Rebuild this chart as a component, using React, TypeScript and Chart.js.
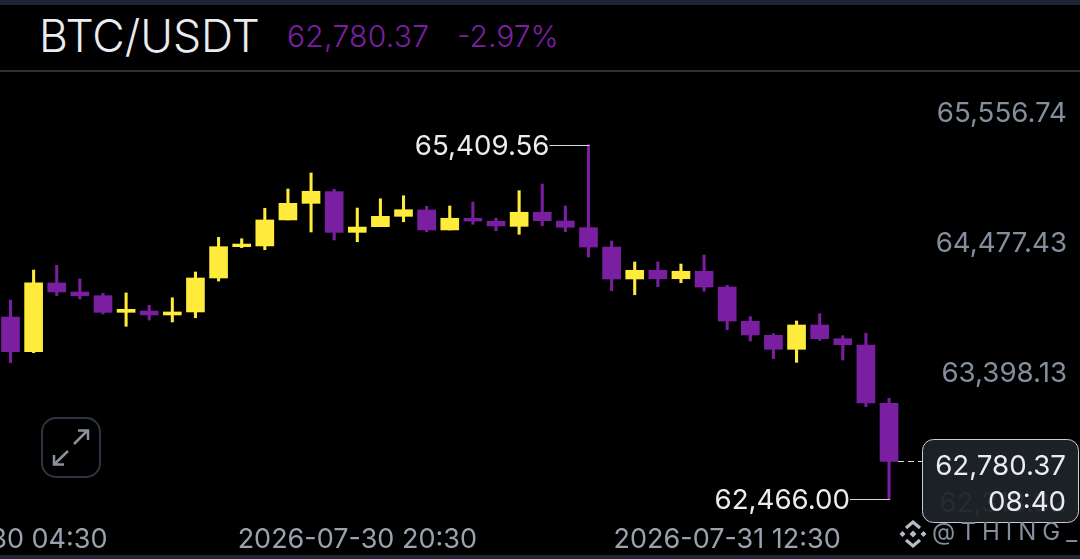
import React, { useEffect, useRef } from "react";
import { Chart, registerables } from "chart.js";

Chart.register(...registerables);

const symbol = "BTC/USDT";
const lastPrice = "62,780.37";
const changePct = "-2.97%";
const countdown = "08:40";
const watermark = "@THING_";

const opens = [63979, 63691, 64262, 64187, 64156, 64018, 64029, 63996, 64021, 64303, 64563, 64569, 64785, 64923, 65020, 64682, 64729, 64815, 64868, 64702, 64799, 64774, 64732, 64849, 64776, 64721, 64560, 64295, 64367, 64297, 64359, 64228, 63944, 63827, 63711, 63913, 63799, 63747, 63263];
const highs = [64120, 64369, 64408, 64295, 64176, 64179, 64076, 64139, 64353, 64641, 64629, 64882, 65042, 65175, 65039, 64884, 64961, 64986, 64898, 64901, 64934, 64799, 65028, 65083, 64901, 65409.56, 64610, 64436, 64436, 64419, 64494, 64242, 63982, 63841, 63946, 64007, 63824, 63844, 63304];
const lows = [63600, 63683, 64156, 64129, 64004, 63902, 63954, 63938, 63973, 64278, 64555, 64538, 64785, 64685, 64619, 64604, 64729, 64770, 64687, 64702, 64749, 64696, 64666, 64737, 64687, 64477, 64198, 64164, 64231, 64264, 64193, 63874, 63780, 63633, 63603, 63786, 63622, 63235, 62466];
const closes = [63691, 64262, 64187, 64156, 64018, 64043, 63996, 64021, 64303, 64563, 64585, 64785, 64923, 65023, 64682, 64726, 64815, 64870, 64702, 64799, 64776, 64735, 64849, 64779, 64724, 64560, 64295, 64367, 64297, 64359, 64228, 63946, 63830, 63711, 63913, 63799, 63749, 63265, 62780.37];

const yTicks = [65556.74, 64477.43, 63398.13, 62318.82];
const xTickIndices = [-1, 15, 31];
const xTickLabels = ["2026-07-30 04:30", "2026-07-30 20:30", "2026-07-31 12:30"];
const highMark = { index: 25, value: 65409.56, text: "65,409.56" };
const lowMark = { index: 38, value: 62466.0, text: "62,466.00" };
const lastValue = 62780.37;

const UP = "#ffeb3b";
const DOWN = "#7b1fa2";
const FONT = "Inter, sans-serif";

const overlay = {
  id: "overlay",
  afterDraw(chart: any) {
    const { ctx } = chart;
    const x = chart.scales.x;
    const y = chart.scales.y;
    ctx.save();
    ctx.textBaseline = "middle";

    const mark = (m: any) => {
      const px = x.getPixelForValue(m.index);
      const py = Math.round(y.getPixelForValue(m.value)) + 0.5;
      ctx.strokeStyle = "#d5d8dc";
      ctx.lineWidth = 1;
      ctx.beginPath();
      ctx.moveTo(px - 39, py);
      ctx.lineTo(px + 1, py);
      ctx.stroke();
      ctx.fillStyle = "#eaecef";
      ctx.font = `400 27.7px ${FONT}`;
      ctx.textAlign = "right";
      ctx.fillText(m.text, px - 39, py + 1);
    };
    mark(highMark);
    mark(lowMark);

    const ly = Math.round(y.getPixelForValue(lastValue)) + 0.5;
    ctx.strokeStyle = "#d5d8dc";
    ctx.setLineDash([6, 4]);
    ctx.beginPath();
    ctx.moveTo(898, ly);
    ctx.lineTo(922, ly);
    ctx.stroke();
    ctx.setLineDash([]);

    ctx.beginPath();
    ctx.roundRect(922.5, 439.5, 156, 83, 11);
    ctx.fillStyle = "rgba(30,35,41,0.93)";
    ctx.fill();
    ctx.strokeStyle = "#c9ccd1";
    ctx.lineWidth = 1;
    ctx.stroke();
    ctx.fillStyle = "#eaecef";
    ctx.textAlign = "right";
    ctx.font = `400 27.7px ${FONT}`;
    ctx.fillText(lastPrice, 1066, 467);
    ctx.fillText(countdown, 1066, 503);

    ctx.fillStyle = "#b7bdc6";
    const cx = 913;
    const cy = 534;
    const dia = (ax: number, ay: number, r: number) => {
      ctx.beginPath();
      ctx.moveTo(ax, ay - r);
      ctx.lineTo(ax + r, ay);
      ctx.lineTo(ax, ay + r);
      ctx.lineTo(ax - r, ay);
      ctx.closePath();
      ctx.fill();
    };
    dia(cx, cy, 3.5);
    dia(cx - 10.5, cy, 3);
    dia(cx + 10.5, cy, 3);
    ctx.strokeStyle = "#b7bdc6";
    ctx.lineWidth = 3.2;
    ctx.beginPath();
    ctx.moveTo(cx - 7, cy - 6);
    ctx.lineTo(cx, cy - 12);
    ctx.lineTo(cx + 7, cy - 6);
    ctx.moveTo(cx - 7, cy + 6);
    ctx.lineTo(cx, cy + 12);
    ctx.lineTo(cx + 7, cy + 6);
    ctx.stroke();
    ctx.fillStyle = "#848e9c";
    ctx.textAlign = "left";
    ctx.font = `400 24px ${FONT}`;
    (ctx as any).letterSpacing = "6px";
    ctx.fillText(watermark, 932, 533);
    (ctx as any).letterSpacing = "0px";

    ctx.beginPath();
    ctx.roundRect(42, 418, 58, 59, 14);
    ctx.strokeStyle = "#2f3540";
    ctx.lineWidth = 2;
    ctx.stroke();
    ctx.strokeStyle = "#8a919b";
    ctx.lineWidth = 2.5;
    ctx.beginPath();
    ctx.moveTo(74, 444);
    ctx.lineTo(88, 430);
    ctx.moveTo(78, 430.5);
    ctx.lineTo(88, 430.5);
    ctx.lineTo(88, 440);
    ctx.moveTo(68, 451);
    ctx.lineTo(54, 464.5);
    ctx.moveTo(54, 455);
    ctx.lineTo(54, 464.5);
    ctx.lineTo(64, 464.5);
    ctx.stroke();
    ctx.restore();
  },
};

export default function App() {
  const ref = useRef<HTMLCanvasElement>(null);
  useEffect(() => {
    const colors = opens.map((o, i) => (closes[i] >= o ? UP : DOWN));
    const chart = new Chart(ref.current!, {
      type: "bar",
      data: {
        datasets: [
          {
            data: highs.map((h, i) => ({ x: i, y: [lows[i], h] })) as any,
            backgroundColor: colors,
            barThickness: 2.4,
            grouped: false,
          } as any,
          {
            data: opens.map((o, i) => ({ x: i, y: [Math.min(o, closes[i]), Math.max(o, closes[i])] })) as any,
            backgroundColor: colors,
            barThickness: 18,
            grouped: false,
          } as any,
        ],
      },
      options: {
        responsive: false,
        animation: false,
        devicePixelRatio: 1,
        layout: { padding: { top: 72, left: 0, right: 0, bottom: 0 } },
        plugins: { legend: { display: false }, tooltip: { enabled: false }, title: { display: false } },
        scales: {
          x: {
            type: "linear",
            min: -0.454,
            max: 46.26,
            offset: false,
            grid: { display: false },
            border: { display: false },
            afterBuildTicks: (s: any) => {
              s.ticks = xTickIndices.map((value) => ({ value }));
            },
            afterFit: (s: any) => {
              s.height = 39;
              s.paddingLeft = 0;
              s.paddingRight = 0;
            },
            ticks: {
              autoSkip: false,
              maxRotation: 0,
              minRotation: 0,
              padding: -4,
              color: "#9aa2ad",
              font: { family: "Inter", size: 27, weight: "400" },
              callback: (v: any) => xTickLabels[xTickIndices.indexOf(Number(v))] ?? "",
            },
          },
          y: {
            position: "right",
            min: 62293.8,
            max: 66013.4,
            grid: { display: false },
            border: { display: false },
            afterBuildTicks: (s: any) => {
              s.ticks = yTicks.map((value) => ({ value }));
            },
            afterFit: (s: any) => {
              s.width = 0;
            },
            ticks: {
              mirror: true,
              padding: -13,
              labelOffset: -13,
              color: "#848e9c",
              font: { family: "Inter", size: 27.7, weight: "400" },
              callback: (v: any) =>
                Number(v).toLocaleString("en-US", { minimumFractionDigits: 2, maximumFractionDigits: 2 }),
            },
          },
        },
      } as any,
      plugins: [overlay],
    });
    return () => chart.destroy();
  }, []);

  return (
    <div style={{ position: "fixed", inset: 0, background: "#000", overflow: "hidden", fontFamily: FONT }}>
      <div style={{ position: "absolute", left: 0, top: 0, width: 1080, height: 5, background: "#1e2635" }} />
      <div style={{ position: "absolute", left: 0, top: 555, width: 1080, height: 4, background: "#1e2635" }} />
      <div style={{ position: "absolute", left: 0, top: 70, width: 1080, height: 2, background: "#2b3139" }} />
      <div style={{ position: "absolute", left: 39, top: 11, lineHeight: "50px", fontSize: 44.5, fontWeight: 300, color: "#eaecef", whiteSpace: "nowrap" }}>{symbol}</div>
      <div style={{ position: "absolute", left: 287, top: 16, lineHeight: "40px", fontSize: 30, letterSpacing: 0.3, fontWeight: 300, color: DOWN, whiteSpace: "nowrap" }}>{lastPrice}</div>
      <div style={{ position: "absolute", left: 457, top: 16, lineHeight: "40px", fontSize: 30, fontWeight: 300, color: DOWN, whiteSpace: "nowrap" }}>{changePct}</div>
      <canvas ref={ref} width={1080} height={559} style={{ position: "absolute", left: 0, top: 0, width: 1080, height: 559 }} />
    </div>
  );
}
